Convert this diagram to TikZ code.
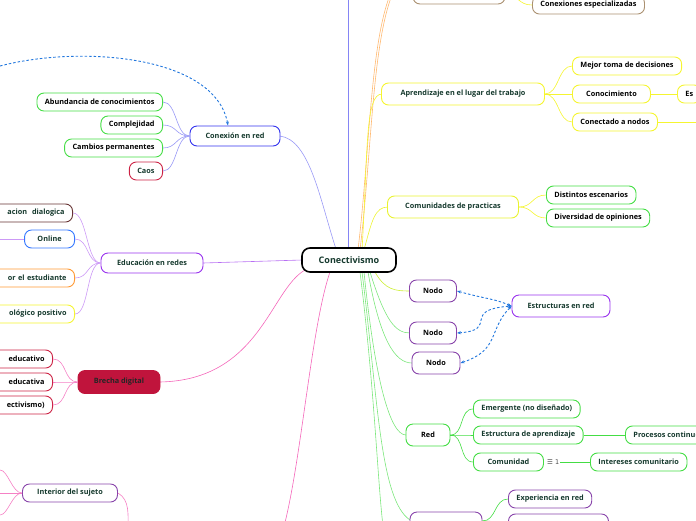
\documentclass[tikz,border=0pt]{standalone}
\usepackage{fontspec}
\setmainfont{Open Sans}
\newfontfamily\djv{DejaVu Sans}
\usetikzlibrary{arrows.meta}
\definecolor{tx}{HTML}{163A2E}
\definecolor{cgreen}{HTML}{44DD44}
\definecolor{cred}{HTML}{CC2244}
\definecolor{cblue}{HTML}{3333EE}
\definecolor{cpurp}{HTML}{9933EE}
\definecolor{cbrown}{HTML}{663333}
\definecolor{cblue2}{HTML}{3377FF}
\definecolor{corange}{HTML}{FF9933}
\definecolor{cyel}{HTML}{F5F530}
\definecolor{crim}{HTML}{C0143C}
\definecolor{cpur2}{HTML}{8844AA}
\definecolor{ctan}{HTML}{AA9070}
\definecolor{clime}{HTML}{CCEE33}
\definecolor{dsh}{HTML}{2277DD}
\tikzset{
 bx/.style={draw=#1, line width=0.9pt, rounded corners=7pt, fill=white, font=\fontsize{7.3}{8}\selectfont\bfseries, text=tx, inner xsep=8pt, minimum height=18pt},
 lcut/.style={anchor=east, text width=#1, align=right},
 ln/.style={draw=#1, line width=0.6pt},
 dl/.style={draw=dsh, line width=0.9pt, dash pattern=on 2.5pt off 2pt, -{Stealth[length=4pt]}}
}
\newcommand{\lcv}[3]{\draw[ln=#1] (#2) .. controls +(-14,0) and +(14,0) .. (#3);}
\newcommand{\rcv}[3]{\draw[ln=#1] (#2) .. controls +(14,0) and +(-14,0) .. (#3);}
\begin{document}
\begin{tikzpicture}[x=1pt,y=-1pt]
\useasboundingbox (0,0) rectangle (696,520);
\clip (0,0) rectangle (696,520);
% lines from centre
\draw[ln=cblue!60] (348,248) -- (348,0);
\draw[ln=corange!70] (358,250) .. controls (370,150) and (370,40) .. (392,-10);
\draw[ln=corange!70] (360,250) .. controls (372,150) and (372,40) .. (394,-10);
\draw[ln=cyel] (362,250) .. controls (368,150) and (365,94) .. (382,94);
\draw[ln=cyel!80!clime] (364,250) .. controls (372,220) and (375,207) .. (388,207);
\draw[ln=cblue!50] (336,249) .. controls (320,200) and (310,140) .. (280,136);
\draw[ln=cpurp!70] (302,260) -- (203,263);
\draw[ln=magenta!60] (305,270) .. controls (270,290) and (260,380) .. (160,382);
\draw[ln=magenta!60] (330,272) .. controls (310,330) and (300,480) .. (280,540);
\draw[ln=magenta!50] (118,493) .. controls (130,500) and (128,515) .. (128,530);
\draw[ln=clime] (375,272) .. controls (385,290) and (395,291) .. (410,291);
\draw[ln=cgreen!70] (370,272) .. controls (385,320) and (395,333) .. (410,333);
\draw[ln=cgreen!70] (368,272) .. controls (380,340) and (395,363) .. (412,363);
\draw[ln=cgreen!70] (364,272) .. controls (375,380) and (390,435) .. (406,435);
\draw[ln=cgreen!70] (362,272) .. controls (378,400) and (380,500) .. (410,520);
\draw[ln=cgreen!70] (360,272) .. controls (376,400) and (378,500) .. (385,540);
% centre
\node[draw=black, line width=1.6pt, rounded corners=8pt, fill=white, font=\fontsize{9}{10}\selectfont\bfseries, text=tx, minimum width=94pt, minimum height=24pt] (c) at (349,260) {Conectivismo};
% Conexion en red
\node[bx=cblue, minimum width=90pt, minimum height=20pt] (cr) at (235,136) {Conexión en red};
\node[bx=cgreen, anchor=east, text=black] (ab) at (163,102) {Abundancia de conocimientos};
\node[bx=cgreen, anchor=east, text=black] (co) at (163,125) {Complejidad};
\node[bx=cgreen, anchor=east, text=black] (cp) at (163,148) {Cambios permanentes};
\node[bx=cred, anchor=east] (ca) at (163,171) {Caos};
\foreach \n in {ab,co,cp,ca} {\lcv{cblue!50}{cr.west}{\n.east}}
\coordinate (dstart) at (0,66);
\draw[dl] (dstart) .. controls (80,45) and (215,55) .. ([xshift=-7pt]cr.north);
% Educacion en redes
\node[bx=cpurp, minimum width=102pt, minimum height=20pt] (er) at (152,263) {Educación en redes};
\node[bx=cbrown, lcut=100pt] (e1) at (73,213) {acion\ \ dialogica};
\node[bx=cblue2, anchor=east, minimum width=50pt] (e2) at (75,239) {Online};
\node[bx=corange, lcut=100pt] (e3) at (75,278) {or el estudiante};
\node[bx=cyel, lcut=100pt] (e4) at (75,314) {ológico positivo};
\foreach \n in {e1,e2,e3,e4} {\lcv{cpurp!50}{er.west}{\n.east}}
\draw[ln=cpurp!50] (e2.west) -- (0,239);
% Brecha digital
\node[bx=crim, fill=crim, minimum width=82pt, minimum height=23pt, text=black!85] (bd) at (119,382) {Brecha digital};
\node[bx=cred, lcut=90pt, text=black] (b1) at (53,359) {educativo};
\node[bx=cred, lcut=90pt, text=black] (b2) at (53,382) {educativa};
\node[bx=cred, lcut=90pt, text=black] (b3) at (53,405) {ectivismo)};
\foreach \n in {b1,b2,b3} {\lcv{magenta!50}{bd.west}{\n.east}}
% Interior del sujeto
\node[bx=cpur2, minimum width=95pt] (is) at (70,493) {Interior del sujeto};
\draw[ln=magenta!50] (is.west) .. controls +(-10,0) and +(8,0) .. (0,470);
\draw[ln=magenta!50] (is.west) .. controls +(-10,0) and +(8,0) .. (0,515);
\draw[ln=magenta!50] (is.west) -- (0,493);
% top
\node[bx=ctan, minimum width=92pt] (tp) at (459,-5) {};
\node[bx=ctan, anchor=west, text=black] (ce) at (532,5) {Conexiones especializadas};
\rcv{cyel}{tp.east}{ce.west}
% Aprendizaje
\node[bx=cyel, minimum width=163pt, minimum height=22pt] (al) at (463,94) {Aprendizaje en el lugar del trabajo};
\node[bx=cyel, anchor=west, text=black] (a1) at (572,66) {Mejor toma de decisiones};
\node[bx=cyel, anchor=west, text=black, minimum width=78pt] (a2) at (572,94) {Conocimiento};
\node[bx=cyel, anchor=west, text=black] (a3) at (572,122) {Conectado a nodos};
\node[bx=cyel, anchor=west, text=black] (a4) at (677,94) {Es};
\foreach \n in {a1,a2,a3} {\rcv{cyel}{al.east}{\n.west}}
\draw[ln=cyel] (a2.east) -- (a4.west);
\coordinate (aout) at (700,122);
\draw[ln=cyel] (a3.east) -- (aout);
% Comunidades
\node[bx=cyel!70!clime, minimum width=131pt, minimum height=22pt] (cm) at (453,207) {Comunidades de practicas};
\node[bx=cgreen, anchor=west, text=black] (d1) at (546,195) {Distintos escenarios};
\node[bx=cgreen, anchor=west, text=black] (d2) at (546,218) {Diversidad de opiniones};
\foreach \n in {d1,d2} {\rcv{cyel}{cm.east}{\n.west}}
% Nodos
\node[bx=cpur2, minimum width=47pt, minimum height=22pt, text=black] (n1) at (433,291) {Nodo};
\node[bx=cpur2, minimum width=47pt, minimum height=22pt, text=black] (n2) at (433,333) {Nodo};
\node[bx=cpur2, minimum width=48pt, minimum height=22pt, text=black] (n3) at (436,363) {Nodo};
\node[bx=cpurp, minimum width=98pt, minimum height=22pt] (es) at (561,306) {Estructuras en red};
\draw[dl, {Stealth[length=4pt]}-{Stealth[length=4pt]}] (n1.east) .. controls (490,300) and (492,298) .. (es.west);
\draw[dl, {Stealth[length=4pt]}-{Stealth[length=4pt]}] (n2.east) .. controls (500,330) and (460,310) .. (es.west);
\draw[dl, {Stealth[length=4pt]}-{Stealth[length=4pt]}] (n3.east) .. controls (500,350) and (488,330) .. (es.west);
% Red
\node[bx=cgreen, minimum width=44pt, minimum height=22pt, text=black] (rd) at (428,435) {Red};
\node[bx=cgreen, anchor=west] (r1) at (473,409) {Emergente (no diseñado)};
\node[bx=cgreen, anchor=west] (r2) at (473,435) {Estructura de aprendizaje};
\node[bx=cgreen, anchor=west, minimum width=70pt] (r3) at (473,462) {Comunidad};
\foreach \n in {r1,r2,r3} {\rcv{cgreen}{rd.east}{\n.west}}
\node[bx=cgreen, anchor=west] (r4) at (625,435) {Procesos continuos};
\draw[ln=cgreen] (r2.east) -- (r4.west);
\node[font=\djv\fontsize{6.5}{7}\selectfont, text=black!70, inner sep=1pt, anchor=west] (ic) at (546,462) {☰ 1};
\node[bx=cgreen, anchor=west] (r5) at (590,462) {Intereses comunitario};
\draw[ln=cgreen] (ic.east) -- (r5.west);
% bottom purple
\node[bx=cpur2, minimum width=72pt] (bp) at (446,521) {};
\node[bx=cpur2, anchor=west] (x1) at (508,499) {Experiencia en red};
\node[bx=cpur2, anchor=west, minimum width=100pt] (x2) at (508,523) {};
\foreach \n in {x1,x2} {\rcv{cgreen}{bp.east}{\n.west}}
\end{tikzpicture}
\end{document}
